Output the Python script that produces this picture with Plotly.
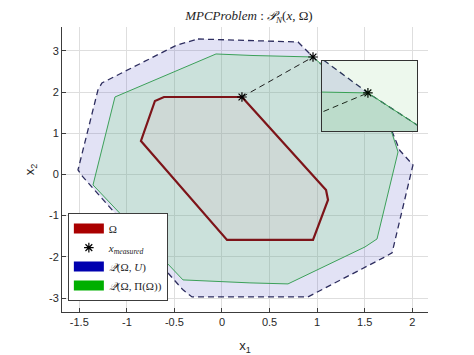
import plotly.graph_objects as go

# ---- data ----
# Omega (inner set)
omega_x = [0.21, 1.094, 1.115, 0.957, 0.053, -0.852, -0.705, -0.61]
omega_y = [1.88, -0.376, -0.619, -1.59, -1.59, 0.813, 1.784, 1.88]
# Q(Omega, Pi(Omega))
qpi_x = [-0.063, 0.326, 0.957, 1.756, 1.851, 1.63, 1.504, 0.694, 0.294, -0.41, -1.356, -1.125]
qpi_y = [2.925, 2.888, 2.852, 1.226, 0.546, -1.566, -1.76, -2.658, -2.633, -2.561, -0.255, 1.881]
# Q(Omega, U)
qu_x = [-0.252, 0.799, 0.957, 1.756, 1.87, 2.008, 1.788, 1.693, 0.904, -0.315, -0.41, -1.462, -1.514, -1.304, -1.262, -0.473]
qu_y = [3.289, 3.216, 2.852, 1.226, 0.58, 0.231, -1.905, -2.027, -2.973, -2.973, -2.803, -0.061, 0.109, 2.051, 2.221, 3.143]
# measured states
xm_x = [0.21, 0.957]
xm_y = [1.88, 2.852]

x_ticks = [-1.5, -1, -0.5, 0, 0.5, 1, 1.5, 2]
y_ticks = [-3, -2, -1, 0, 1, 2, 3]

legend_names = ["Ω", "<i>x<sub>measured</sub></i>", "<i>𝒬</i>(Ω, <i>U</i>)", "<i>𝒬</i>(Ω, Π(Ω))"]

def close(a):
    return list(a) + [a[0]]

fig = go.Figure()

for ax, ay in (("x", "y"), ("x2", "y2")):
    fig.add_trace(go.Scatter(x=close(qu_x), y=close(qu_y), mode="lines", fill="toself",
                             fillcolor="rgba(62,62,188,0.15)",
                             line=dict(color="rgb(45,45,95)", width=1.3, dash="6px,4px"),
                             showlegend=False, hoverinfo="skip", xaxis=ax, yaxis=ay))
    fig.add_trace(go.Scatter(x=close(qpi_x), y=close(qpi_y), mode="lines", fill="toself",
                             fillcolor="rgba(116,226,115,0.2)",
                             line=dict(color="rgb(60,160,90)", width=1),
                             showlegend=False, hoverinfo="skip", xaxis=ax, yaxis=ay))
    fig.add_trace(go.Scatter(x=close(omega_x), y=close(omega_y), mode="lines", fill="toself",
                             fillcolor="rgba(234,146,179,0.1)",
                             line=dict(color="rgb(125,20,25)", width=2.2),
                             showlegend=False, hoverinfo="skip", xaxis=ax, yaxis=ay))
    fig.add_trace(go.Scatter(x=xm_x, y=xm_y, mode="lines",
                             line=dict(color="rgb(30,30,30)", width=1, dash="6px,4px"),
                             showlegend=False, hoverinfo="skip", xaxis=ax, yaxis=ay))
    fig.add_trace(go.Scatter(x=xm_x, y=xm_y, mode="markers",
                             marker=dict(symbol="asterisk-open", size=8, color="black",
                                         line=dict(color="black", width=1.2)),
                             showlegend=False, hoverinfo="skip", xaxis=ax, yaxis=ay))

# legend entries
leg_colors = ["rgb(170,0,0)", None, "rgb(0,0,175)", "rgb(0,175,0)"]
for name, col in zip(legend_names, leg_colors):
    if col is None:
        fig.add_trace(go.Scatter(x=[None], y=[None], mode="markers", name=name,
                                 marker=dict(symbol="asterisk-open", size=8, color="black",
                                             line=dict(color="black", width=1.2))))
    else:
        fig.add_trace(go.Scatter(x=[None], y=[None], mode="lines", name=name,
                                 line=dict(color=col, width=14)))

axis_common = dict(showline=True, linecolor="rgb(60,60,60)", linewidth=1,
                   showgrid=True, gridcolor="rgb(222,222,222)", gridwidth=1,
                   ticks="inside", ticklen=4, tickcolor="rgb(60,60,60)",
                   zeroline=False, mirror=False, automargin=False,
                   tickfont=dict(family="Liberation Sans, Arial", size=11, color="rgb(40,40,40)"))

# the page body adds an 8px offset, so the figure is 8px smaller and margins adjusted
fig.update_layout(
    width=466, height=347,
    margin=dict(l=54, r=46, t=19, b=43, autoexpand=False),
    paper_bgcolor="white", plot_bgcolor="white",
    title=dict(text="<i>MPCProblem</i> : <i>𝒫<sub>N</sub></i>(<i>x</i>, Ω)",
               x=0.517, xanchor="center", y=0.978, yanchor="middle",
               font=dict(family="Liberation Serif, DejaVu Serif", size=13, color="rgb(30,30,30)")),
    xaxis=dict(range=[-1.682, 2.166], tickvals=x_ticks, ticktext=[f"{v:g}" for v in x_ticks],
               title=dict(text="x<sub>1</sub>", standoff=14,
                          font=dict(family="Liberation Sans, Arial", size=13, color="rgb(40,40,40)")),
               **axis_common),
    yaxis=dict(range=[-3.34, 3.58], tickvals=y_ticks, ticktext=[f"{v:g}" for v in y_ticks],
               title=dict(text="x<sub>2</sub>", standoff=11,
                          font=dict(family="Liberation Sans, Arial", size=13, color="rgb(40,40,40)")),
               **axis_common),
    xaxis2=dict(domain=[0.710, 0.970], anchor="y2", range=[0.836, 1.086],
                showline=True, mirror=True, linecolor="rgb(50,50,50)", linewidth=1.2,
                showgrid=False, zeroline=False, showticklabels=False, ticks=""),
    yaxis2=dict(domain=[0.635, 0.881], anchor="x2", range=[2.54, 3.114],
                showline=True, mirror=True, linecolor="rgb(50,50,50)", linewidth=1.2,
                showgrid=False, zeroline=False, showticklabels=False, ticks=""),
    legend=dict(x=0.016, y=0.347, xanchor="left", yanchor="top",
                bgcolor="white", bordercolor="rgb(60,60,60)", borderwidth=1,
                font=dict(family="Liberation Serif, DejaVu Serif", size=11, color="rgb(30,30,30)"),
                itemwidth=30, tracegroupgap=0),
    shapes=[dict(type="rect", xref="x2 domain", yref="y2 domain", x0=0, x1=1, y0=0, y1=1,
                 fillcolor="rgba(0,150,0,0.07)", line=dict(width=0), layer="above")],
)

fig.write_html("out.html")
